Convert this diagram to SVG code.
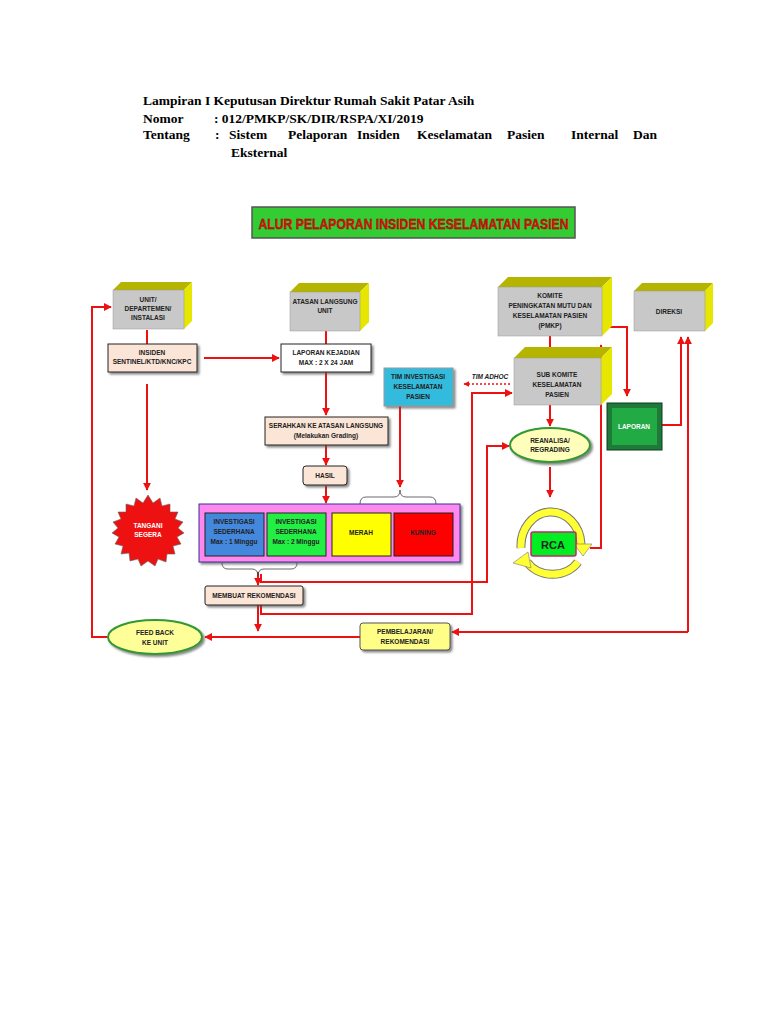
<svg xmlns="http://www.w3.org/2000/svg" width="768" height="1024" viewBox="0 0 768 1024">
<defs>
<marker id="ah" viewBox="0 0 10 10" refX="9" refY="5" markerWidth="4" markerHeight="4" orient="auto"><path d="M0,0 L10,5 L0,10 z" fill="#ee1111"/></marker>
<filter id="sh" x="-10%" y="-10%" width="130%" height="140%"><feDropShadow dx="2" dy="2" stdDeviation="0.8" flood-color="#555" flood-opacity="0.7"/></filter>
</defs>
<style>
.hd{font-family:"Liberation Serif",serif;font-weight:bold;font-size:13.5px;fill:#000}
.t{font-family:"Liberation Sans",Arial,sans-serif;font-weight:bold;font-size:6.5px;fill:#222;text-anchor:middle}
.c{fill:none;stroke:#ee1111;stroke-width:2}
.g3{fill:#c8c8c8;stroke:#999;stroke-width:0.5}
.top{fill:#b5b500}
.side{fill:#e6e600}
.pe{fill:#fbe5d6;stroke:#222;stroke-width:1;filter:url(#sh)}
.ro{fill:none;stroke:#777;stroke-width:9}
.ri{fill:none;stroke:#ffff33;stroke-width:7}
</style>
<rect width="768" height="1024" fill="#fff"/>
<text class="hd" x="143" y="105">Lampiran I Keputusan Direktur Rumah Sakit Patar Asih</text>
<text class="hd" x="143" y="123">Nomor</text><text class="hd" x="214" y="123">: 012/PMKP/SK/DIR/RSPA/XI/2019</text>
<text class="hd" x="143" y="139">Tentang</text>
<text class="hd" y="139"><tspan x="215">:</tspan><tspan x="229">Sistem</tspan><tspan x="288">Pelaporan</tspan><tspan x="357">Insiden</tspan><tspan x="417">Keselamatan</tspan><tspan x="507">Pasien</tspan><tspan x="571">Internal</tspan><tspan x="633">Dan</tspan></text>
<text class="hd" x="231" y="157">Eksternal</text>

<g id="title"><rect x="252" y="207" width="323" height="31" fill="#33cc33" stroke="#555" stroke-width="1.5"/>
<text x="413.5" y="229" text-anchor="middle" font-family="Liberation Sans,Arial,sans-serif" font-weight="bold" font-size="15" fill="#ee1111" stroke="#600" stroke-width="0.4" textLength="310" lengthAdjust="spacingAndGlyphs">ALUR PELAPORAN INSIDEN KESELAMATAN PASIEN</text></g>

<g id="connectors">
<line class="c" x1="147" y1="330" x2="147" y2="344"/>
<line class="c" x1="147" y1="384" x2="147" y2="490" marker-end="url(#ah)"/>
<line class="c" x1="204" y1="358" x2="279" y2="358" marker-end="url(#ah)"/>
<line class="c" x1="326" y1="331" x2="326" y2="344"/>
<line class="c" x1="326" y1="372" x2="326" y2="415" marker-end="url(#ah)"/>
<line class="c" x1="326" y1="445" x2="326" y2="465" marker-end="url(#ah)"/>
<line class="c" x1="326" y1="486" x2="326" y2="503" marker-end="url(#ah)"/>
<line class="c" x1="400" y1="406" x2="400" y2="487" marker-end="url(#ah)"/>
<polyline class="c" points="108,637 92,637 92,307 111,307" marker-end="url(#ah)"/>
<line class="c" x1="258" y1="572" x2="258" y2="585" marker-end="url(#ah)"/>
<line class="c" x1="258" y1="605" x2="258" y2="631" marker-end="url(#ah)"/>
<line class="c" x1="360" y1="637" x2="205" y2="637" marker-end="url(#ah)"/>
<polyline class="c" points="261,574 261,582 487,582 487,446 509,446" marker-end="url(#ah)"/>
<polyline class="c" points="261,605 261,614 472,614 472,393 512,393" marker-end="url(#ah)"/>
<line x1="510" y1="384" x2="464" y2="384" stroke="#ee1111" stroke-width="1.5" stroke-dasharray="2,2" marker-end="url(#ah)"/>
<text x="490" y="379" font-family="Liberation Sans,Arial,sans-serif" font-style="italic" font-weight="bold" font-size="6.5" text-anchor="middle" fill="#222">TIM ADHOC</text>
<line class="c" x1="550" y1="336" x2="550" y2="358"/>
<line class="c" x1="550" y1="405" x2="550" y2="426" marker-end="url(#ah)"/>
<line class="c" x1="550" y1="467" x2="550" y2="497" marker-end="url(#ah)"/>
<polyline class="c" points="602,327 627,327 627,396" marker-end="url(#ah)"/>
<polyline class="c" points="662,425 681,425 681,337" marker-end="url(#ah)"/>
<polyline class="c" points="590,548 601,548 601,345" marker-end="url(#ah)"/>
<polyline class="c" points="688,632 688,337" marker-end="url(#ah)"/>
<polyline class="c" points="688,632 452,632" marker-end="url(#ah)"/>
</g>

<g id="unit"><polygon class="top" points="113,290 121,282 192,282 184,290"/><polygon class="side" points="184,290 192,282 192,321 184,329"/><rect class="g3" x="113" y="290" width="71" height="39"/>
<text class="t" x="148" y="302">UNIT/</text><text class="t" x="148" y="311">DEPARTEMEN/</text><text class="t" x="148" y="320">INSTALASI</text></g>
<g id="atasan"><polygon class="top" points="290,292 299,283 369,283 360,292"/><polygon class="side" points="360,292 369,283 369,322 360,331"/><rect class="g3" x="290" y="292" width="70" height="39"/>
<text class="t" x="325" y="304">ATASAN LANGSUNG</text><text class="t" x="325" y="313">UNIT</text></g>
<g id="insiden"><rect class="pe" x="108" y="344" width="89" height="28"/><text class="t" x="152" y="355">INSIDEN</text><text class="t" x="152" y="364" font-weight="normal" font-size="5">SENTINEL/KTD/KNC/KPC</text></g>
<g id="laporan-kejadian"><rect x="281" y="344" width="90" height="28" fill="#fff" stroke="#222" filter="url(#sh)"/><text class="t" x="326" y="355">LAPORAN KEJADIAN</text><text class="t" x="326" y="365">MAX : 2 X 24 JAM</text></g>
<g id="serahkan"><rect class="pe" x="265" y="417" width="123" height="28"/><text class="t" x="326" y="428">SERAHKAN KE ATASAN LANGSUNG</text><text class="t" x="326" y="438">(Melakukan Grading)</text></g>
<g id="hasil"><rect class="pe" x="303" y="466" width="44" height="19" rx="3"/><text class="t" x="325" y="478">HASIL</text></g>
<g id="tim"><rect x="384" y="368" width="69" height="38" fill="#33bbdd" stroke="#999" filter="url(#sh)"/><text class="t" x="418" y="379">TIM INVESTIGASI</text><text class="t" x="418" y="389">KESELAMATAN</text><text class="t" x="418" y="399">PASIEN</text></g>
<g id="grading"><rect x="199" y="504" width="261" height="58" fill="#ff88ee" stroke="#333399" filter="url(#sh)"/>
<rect x="205" y="513" width="59" height="43" fill="#4488dd" stroke="#222"/><text class="t" x="234" y="524">INVESTIGASI</text><text class="t" x="234" y="534">SEDERHANA</text><text class="t" x="234" y="544">Max : 1 Minggu</text>
<rect x="267" y="513" width="59" height="43" fill="#22ee44" stroke="#222"/><text class="t" x="296" y="524">INVESTIGASI</text><text class="t" x="296" y="534">SEDERHANA</text><text class="t" x="296" y="544">Max : 2 Minggu</text>
<rect x="332" y="513" width="59" height="43" fill="#ffff00" stroke="#222"/><text class="t" x="361" y="535">MERAH</text>
<rect x="394" y="513" width="59" height="43" fill="#ff0000" stroke="#222"/><text class="t" x="423" y="535">KUNING</text>
<path d="M360,504 Q360,497 366,497 L394,497 Q400,497 400,490 Q400,497 406,497 L430,497 Q436,497 436,504" fill="none" stroke="#444" stroke-width="0.8"/>
<path d="M222,563 Q222,569 228,569 L252,569 Q258,569 258,576 Q258,569 264,569 L291,569 Q297,569 297,563" fill="none" stroke="#444" stroke-width="0.8"/></g>
<g id="tangani"><polygon fill="#ee1111" stroke="#666" stroke-width="0.6" points="148,495 153,503 160,498 162,506 170,504 170,512 178,512 175,519 183,522 178,528 184,533 177,537 181,544 173,546 175,554 167,554 166,562 158,559 155,566 148,561 141,566 138,559 130,561 129,553 121,554 123,546 115,544 119,537 112,533 118,528 113,522 121,519 118,512 126,512 126,504 134,506 136,498 143,503"/>
<text class="t" x="148" y="528" style="fill:#fff">TANGANI</text><text class="t" x="148" y="537" style="fill:#fff">SEGERA</text></g>
<g id="membuat"><rect class="pe" x="205" y="586" width="98" height="19" rx="2"/><text class="t" x="254" y="598">MEMBUAT REKOMENDASI</text></g>
<g id="feedback"><ellipse cx="155" cy="637" rx="47" ry="17" fill="#ffff99" stroke="#339933" stroke-width="2" filter="url(#sh)"/><text class="t" x="155" y="635">FEED BACK</text><text class="t" x="155" y="645">KE UNIT</text></g>
<g id="pembelajaran"><rect x="360" y="623" width="90" height="27" rx="3" fill="#ffff88" stroke="#555" filter="url(#sh)"/><text class="t" x="405" y="634">PEMBELAJARAN/</text><text class="t" x="405" y="644">REKOMENDASI</text></g>
<g id="komite"><polygon class="top" points="498,287 508,277 612,277 602,287"/><polygon class="side" points="602,287 612,277 612,326 602,336"/><rect class="g3" x="498" y="287" width="104" height="49"/>
<text class="t" x="550" y="298">KOMITE</text><text class="t" x="550" y="308">PENINGKATAN MUTU DAN</text><text class="t" x="550" y="318">KESELAMATAN PASIEN</text><text class="t" x="550" y="328">(PMKP)</text></g>
<g id="direksi"><polygon class="top" points="634,291 642,283 713,283 705,291"/><polygon class="side" points="705,291 713,283 713,323 705,331"/><rect class="g3" x="634" y="291" width="71" height="40"/><text class="t" x="669" y="314">DIREKSI</text></g>
<g id="subkomite"><polygon class="top" points="514,358 525,347 612,347 601,358"/><polygon class="side" points="601,358 612,347 612,394 601,405"/><rect class="g3" x="514" y="358" width="87" height="47"/>
<text class="t" x="557" y="377">SUB KOMITE</text><text class="t" x="557" y="387">KESELAMATAN</text><text class="t" x="557" y="397">PASIEN</text></g>
<g id="laporan"><rect x="607" y="403" width="55" height="47" fill="#1f7a3a" stroke="#0b3d1a"/><rect x="612" y="408" width="45" height="37" fill="#22aa44"/><text class="t" x="634" y="429" style="fill:#fff">LAPORAN</text></g>
<g id="reanalisa"><ellipse cx="550" cy="445" rx="40" ry="17" fill="#ffffbb" stroke="#339933" stroke-width="2" filter="url(#sh)"/><text class="t" x="550" y="443">REANALISA/</text><text class="t" x="550" y="452">REGRADING</text></g>
<g id="rca">
<path class="ro" d="M521,548 A30,34 0 0 1 581,544"/><path class="ri" d="M521,548 A30,34 0 0 1 581,544"/>
<polygon points="574,544 592,544 583,556" fill="#ffff33" stroke="#777" stroke-width="0.6"/>
<path class="ro" d="M578,562 A30,26 0 0 1 527,562"/><path class="ri" d="M578,562 A30,26 0 0 1 527,562"/>
<polygon points="513,563 528,552 531,568" fill="#ffff33" stroke="#777" stroke-width="0.6"/>
<rect x="531" y="532" width="45" height="24" rx="2" fill="#00ee22" stroke="#cc2266" stroke-width="1.5"/><text x="553" y="549" text-anchor="middle" font-family="Liberation Sans,Arial,sans-serif" font-weight="bold" font-size="11" fill="#222">RCA</text></g>
</svg>
